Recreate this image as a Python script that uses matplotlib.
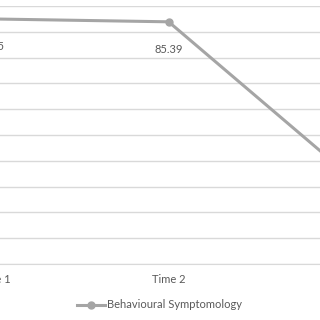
import matplotlib.pyplot as plt

plt.rcParams['font.family'] = ['Lato', 'DejaVu Sans']

times = ['Time 1', 'Time 2', 'Time 3']
scores = [85.5, 85.39, 79.62]
labels = ['85.5', '85.39', '79.62']

line_col = '#a5a5a5'
grid_col = '#d9d9d9'
text_col = '#595959'

fig = plt.figure(figsize=(3.2, 3.2), dpi=100)
# chart is a crop of a wider Excel chart, so the axes run past the figure edges
ax = fig.add_axes([-0.292, 0.175, 1.638, 0.806])

x = list(range(len(times)))
ax.plot(x, scores, color=line_col, lw=2.2, marker='o', ms=5,
        label='Behavioural Symptomology')
for xi, v, t in zip(x, scores, labels):
    ax.annotate(t, (xi, v), xytext=(0, -20), textcoords='offset points',
                ha='center', va='center', fontsize=8, color=text_col)

ax.set_xlim(-0.5, 2.5)
ax.set_ylim(76, 86)
ax.set_yticks(range(76, 87))
ax.set_yticklabels([])
ax.set_xticks(x)
ax.set_xticklabels(times, fontsize=8, color=text_col)
ax.tick_params(length=0, pad=7)
ax.grid(axis='y', color=grid_col, lw=1)
ax.set_axisbelow(True)
for s in ['top', 'left', 'right']:
    ax.spines[s].set_visible(False)
ax.spines['bottom'].set_color(grid_col)

fig.legend(loc='center', bbox_to_anchor=(0.5, 1 - 305 / 320), frameon=False,
           fontsize=8, labelcolor=text_col, handlelength=2.5, handletextpad=0.2)

fig.savefig('out.png', dpi=100)
